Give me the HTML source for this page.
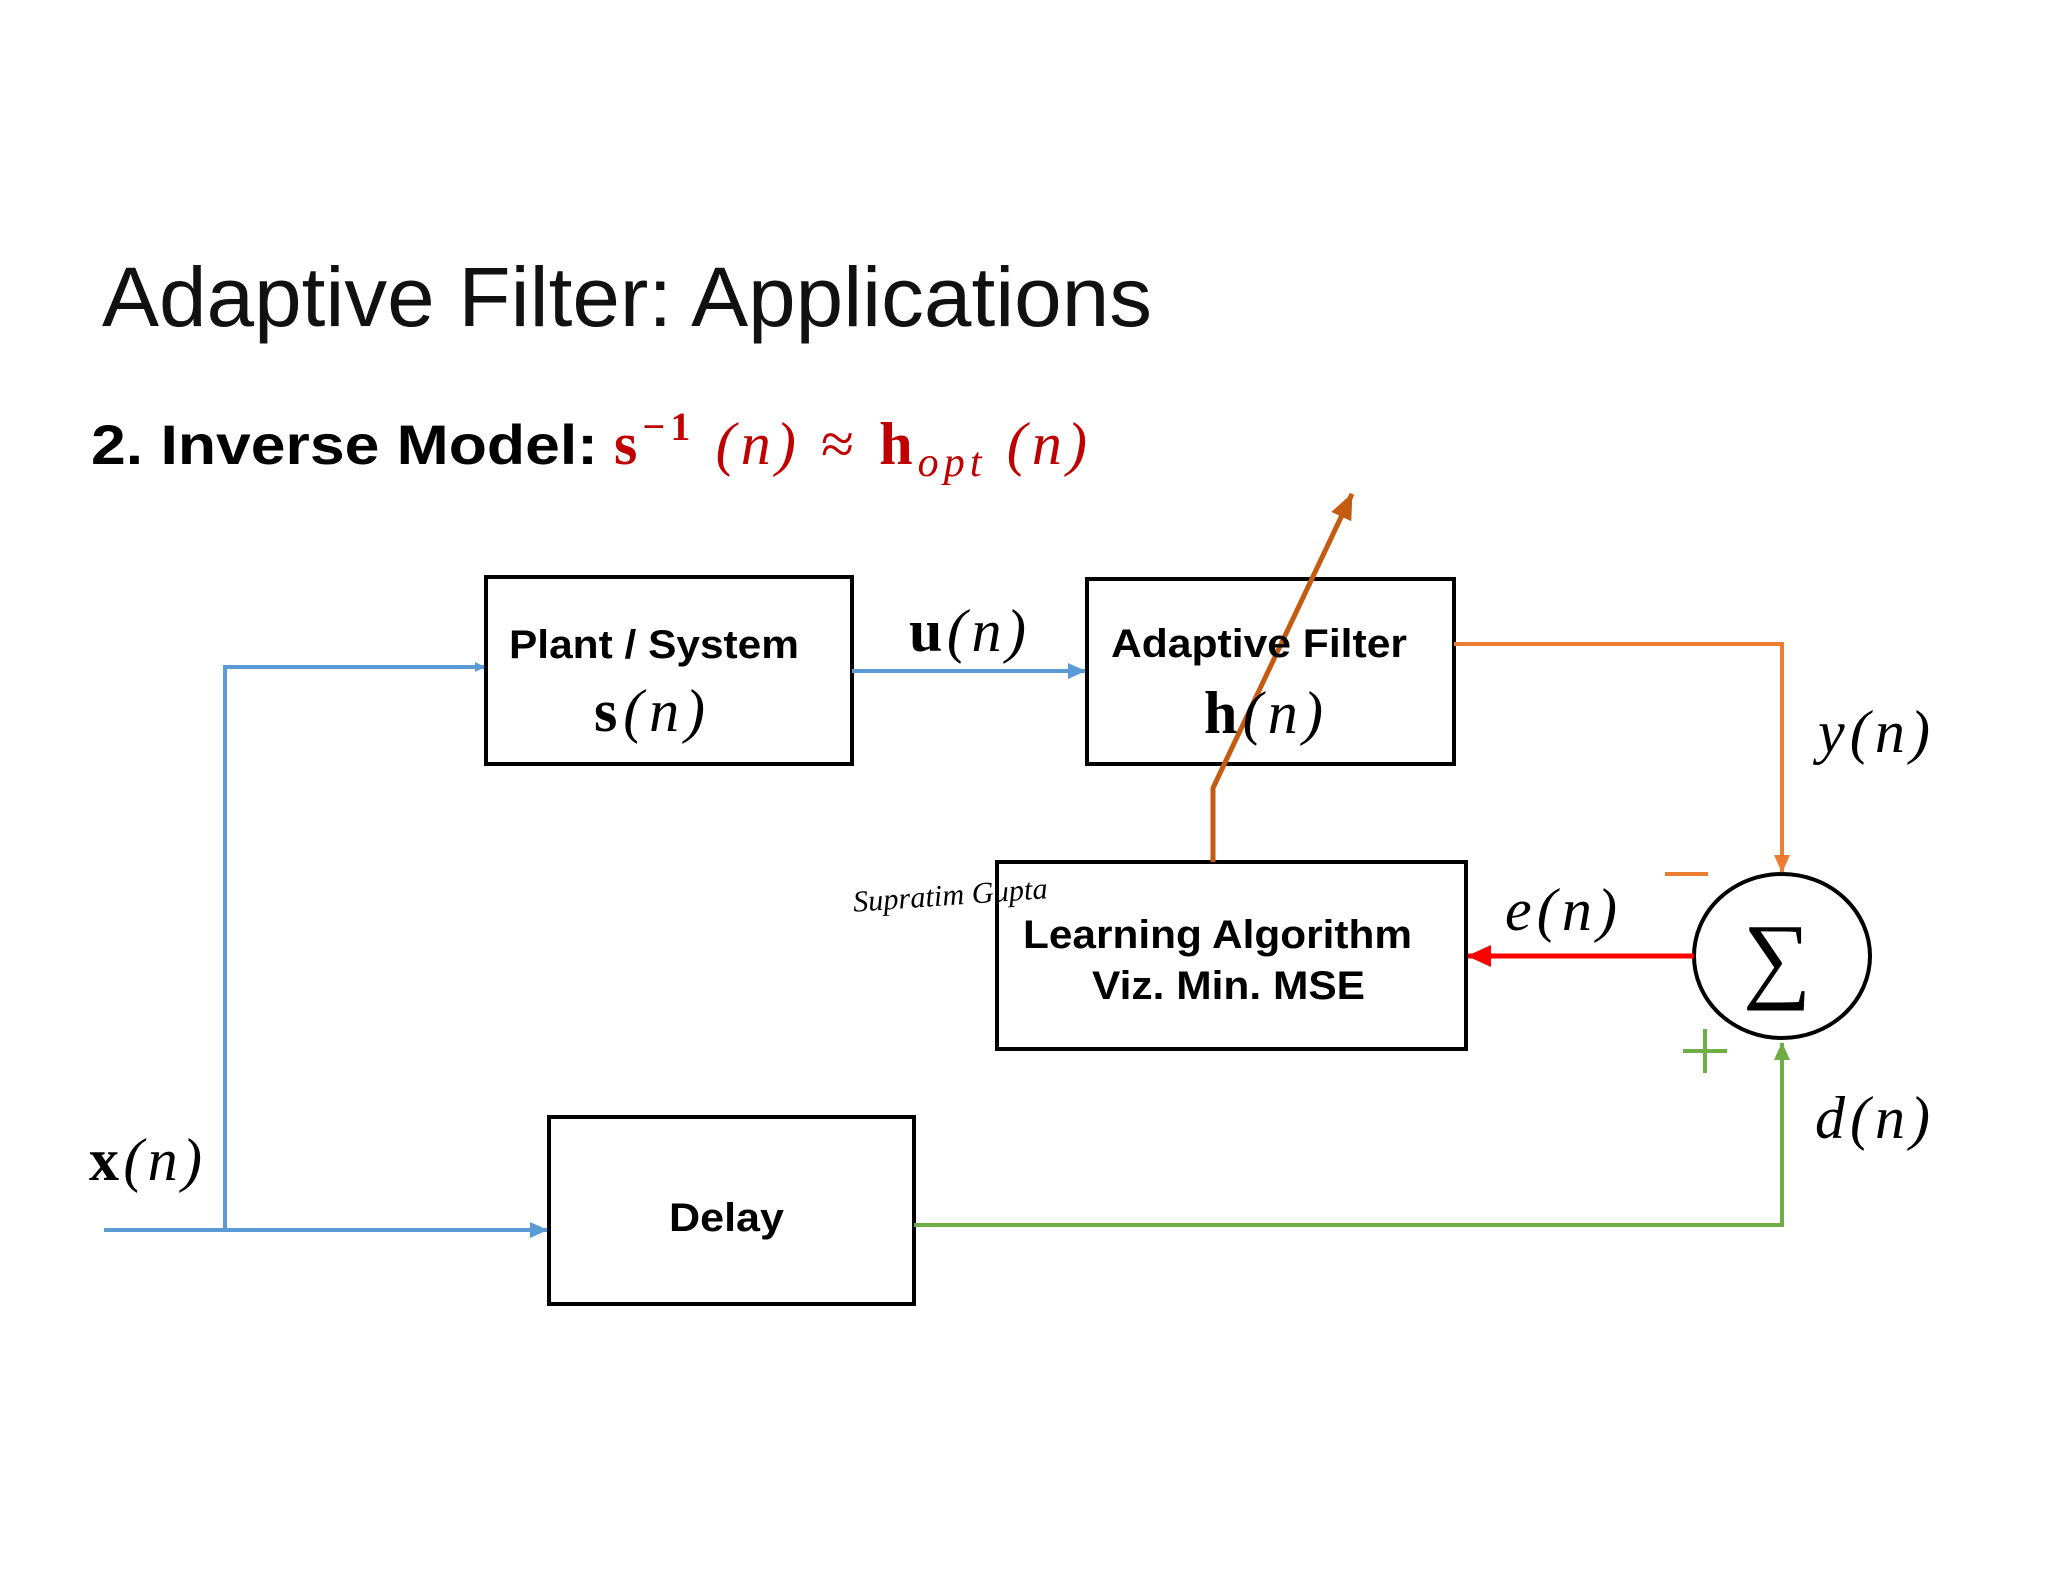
<!DOCTYPE html>
<html><head><meta charset="utf-8"><style>
html,body{margin:0;padding:0;background:#fff;}
svg{display:block;}
</style></head><body>
<svg width="2048" height="1582" viewBox="0 0 2048 1582" xmlns="http://www.w3.org/2000/svg">
<defs>
<marker id="ab" markerWidth="10" markerHeight="10" refX="9" refY="5" orient="auto" markerUnits="userSpaceOnUse"><path d="M0,0 L10,5 L0,10 z" fill="#5b9bd5"/></marker>
<marker id="ab2" markerWidth="18" markerHeight="16" refX="17" refY="8" orient="auto" markerUnits="userSpaceOnUse"><path d="M0,0 L18,8 L0,16 z" fill="#5b9bd5"/></marker>
<marker id="ao" markerWidth="18" markerHeight="16" refX="17" refY="8" orient="auto" markerUnits="userSpaceOnUse"><path d="M0,0 L18,8 L0,16 z" fill="#ed7d31"/></marker>
<marker id="ag" markerWidth="18" markerHeight="16" refX="17" refY="8" orient="auto" markerUnits="userSpaceOnUse"><path d="M0,0 L18,8 L0,16 z" fill="#70ad47"/></marker>
<marker id="ar" markerWidth="24" markerHeight="22" refX="23" refY="11" orient="auto" markerUnits="userSpaceOnUse"><path d="M0,0 L24,11 L0,22 z" fill="#ff0000"/></marker>
<marker id="abr" markerWidth="26" markerHeight="22" refX="25" refY="11" orient="auto" markerUnits="userSpaceOnUse"><path d="M0,0 L26,11 L0,22 z" fill="#c55a11"/></marker>
</defs>
<rect width="2048" height="1582" fill="#fff"/>
<text x="102" y="326" font-family="Liberation Sans, sans-serif" font-size="84" fill="#111" textLength="1050" lengthAdjust="spacingAndGlyphs">Adaptive Filter: Applications</text>
<text x="91" y="464" font-family="Liberation Sans, sans-serif" font-weight="bold" font-size="56" fill="#000" textLength="507" lengthAdjust="spacingAndGlyphs">2.  Inverse Model:</text>
<text x="614" y="464" font-family="Liberation Serif, serif" font-size="60" fill="#c00000" textLength="473" lengthAdjust="spacing"><tspan font-weight="bold">s</tspan><tspan dy="-24" font-size="40" font-weight="bold">−1</tspan><tspan dy="24" font-style="italic"> (n)</tspan><tspan> ≈ </tspan><tspan font-weight="bold">h</tspan><tspan dy="12" font-size="42" font-style="italic">opt</tspan><tspan dy="-12" font-style="italic"> (n)</tspan></text>

<g fill="none" stroke="#000" stroke-width="4">
<rect x="486" y="577" width="366" height="187"/>
<rect x="1087" y="579" width="367" height="185"/>
<rect x="997" y="862" width="469" height="187"/>
<rect x="549" y="1117" width="365" height="187"/>
<ellipse cx="1782" cy="956" rx="88" ry="82"/>
</g>

<g stroke="#5b9bd5" stroke-width="4" fill="none">
<line x1="104" y1="1230" x2="547" y2="1230" marker-end="url(#ab2)"/>
<polyline points="225,1230 225,667 484,667" marker-end="url(#ab)"/>
<line x1="852" y1="671" x2="1085" y2="671" marker-end="url(#ab2)"/>
</g>
<polyline points="1454,644 1782,644 1782,872" fill="none" stroke="#ed7d31" stroke-width="4" marker-end="url(#ao)"/>
<line x1="1665" y1="874" x2="1708" y2="874" stroke="#ed7d31" stroke-width="4"/>
<polyline points="914,1225 1782,1225 1782,1043" fill="none" stroke="#70ad47" stroke-width="4" marker-end="url(#ag)"/>
<line x1="1683" y1="1051" x2="1727" y2="1051" stroke="#70ad47" stroke-width="4"/>
<line x1="1705" y1="1029" x2="1705" y2="1073" stroke="#70ad47" stroke-width="4"/>
<line x1="1694" y1="956" x2="1468" y2="956" stroke="#ff0000" stroke-width="5" marker-end="url(#ar)"/>
<polyline points="1213,862 1213,788 1352,494" fill="none" stroke="#c55a11" stroke-width="5" marker-end="url(#abr)"/>

<g font-family="Liberation Sans, sans-serif" font-weight="bold" fill="#000">
<text x="509" y="658" font-size="40" textLength="290" lengthAdjust="spacingAndGlyphs">Plant / System</text>
<text x="1111" y="657" font-size="40" textLength="296" lengthAdjust="spacingAndGlyphs">Adaptive Filter</text>
<text x="1023" y="948" font-size="40" textLength="389" lengthAdjust="spacingAndGlyphs">Learning Algorithm</text>
<text x="1092" y="999" font-size="40" textLength="273" lengthAdjust="spacingAndGlyphs">Viz. Min. MSE</text>
<text x="669" y="1231" font-size="40" textLength="115" lengthAdjust="spacingAndGlyphs">Delay</text>
</g>
<g font-family="Liberation Serif, serif" font-size="60" fill="#000">
<text x="594" y="731" textLength="111" lengthAdjust="spacing"><tspan font-weight="bold">s</tspan><tspan font-style="italic">(n)</tspan></text>
<text x="1204" y="733" textLength="119" lengthAdjust="spacing"><tspan font-weight="bold">h</tspan><tspan font-style="italic">(n)</tspan></text>
<text x="909" y="651" textLength="117" lengthAdjust="spacing"><tspan font-weight="bold">u</tspan><tspan font-style="italic">(n)</tspan></text>
<text x="89" y="1180" textLength="113" lengthAdjust="spacing"><tspan font-weight="bold">x</tspan><tspan font-style="italic">(n)</tspan></text>
<text x="1818" y="752" font-style="italic" textLength="112" lengthAdjust="spacing">y(n)</text>
<text x="1505" y="930" font-style="italic" textLength="112" lengthAdjust="spacing">e(n)</text>
<text x="1815" y="1138" font-style="italic" textLength="115" lengthAdjust="spacing">d(n)</text>
<text x="1777" y="990" text-anchor="middle" font-size="96">∑</text>
</g>
<text x="853" y="905" font-family="Liberation Serif, serif" font-style="italic" font-size="30" fill="#000" textLength="195" lengthAdjust="spacingAndGlyphs" transform="rotate(-4 950 900)">Supratim Gupta</text>
</svg>
</body></html>
